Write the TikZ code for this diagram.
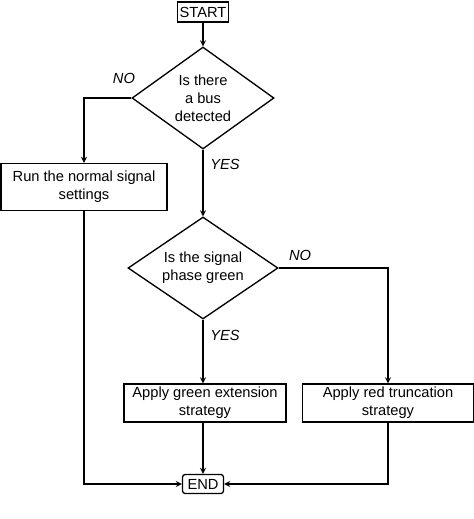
\documentclass[tikz,border=0pt]{standalone}
\usepackage{fontspec}
\setmainfont{Liberation Sans}
\usetikzlibrary{shapes.geometric, arrows, positioning}

\begin{document}
\begin{tikzpicture}[x=0.75pt, y=-0.75pt, font=\fontsize{11}{13.5}\selectfont]
  \tikzstyle{block} = [rectangle, draw, line width=1pt, align=center, inner sep=1pt, minimum height=28.5pt]
  \tikzstyle{decision} = [diamond, draw, line width=1pt, align=center, inner sep=0pt, aspect=1.4, minimum height=76.5pt]
  \tikzstyle{terminal} = [rectangle, draw, line width=1pt, inner sep=1.5pt]
  \tikzstyle{arrow} = [line width=1pt,->,>=stealth]
  \tikzstyle{answer} = [font=\fontsize{11}{13.5}\selectfont\itshape]

  \useasboundingbox (0,0) rectangle (474,519);

  \node[terminal, minimum width=36.75pt, minimum height=15pt] (start) at (203,12) {START};
  \node[decision, minimum width=106.5pt] (bus) at (203,98) {Is there\\a bus\\detected};
  \node[block, minimum width=124.5pt, minimum height=35.25pt] (normal) at (84,187) {Run the normal signal\\settings};
  \node[decision, minimum width=112.5pt] (phase) at (203,268) {Is the signal\\phase green};
  \node[block, minimum width=121.5pt] (green) at (205,403) {Apply green extension\\strategy};
  \node[block, minimum width=128.25pt] (red) at (388,403) {Apply red truncation\\strategy};
  \node[terminal, rounded corners=2pt, minimum width=30.75pt, minimum height=14.25pt] (stop) at (203,484) {END};

  \node[answer] (no1) at (124,78) {NO};
  \node[answer] (yes1) at (225,164) {YES};
  \node[answer] (no2) at (300,255) {NO};
  \node[answer] (yes2) at (225,335) {YES};

  \draw[arrow] (start) -- (bus);
  \draw[arrow] (bus.west) -| (normal.north);
  \draw[arrow] (bus.south) -- (phase.north);
  \draw[arrow] (phase.south) -- (phase.south |- green.north);
  \draw[arrow] (phase.east) -| (red.north);
  \draw[arrow] (normal.south) |- (stop.west);
  \draw[arrow] (green.south -| stop.north) -- (stop.north);
  \draw[arrow] (red.south) |- (stop.east);
\end{tikzpicture}
\end{document}
